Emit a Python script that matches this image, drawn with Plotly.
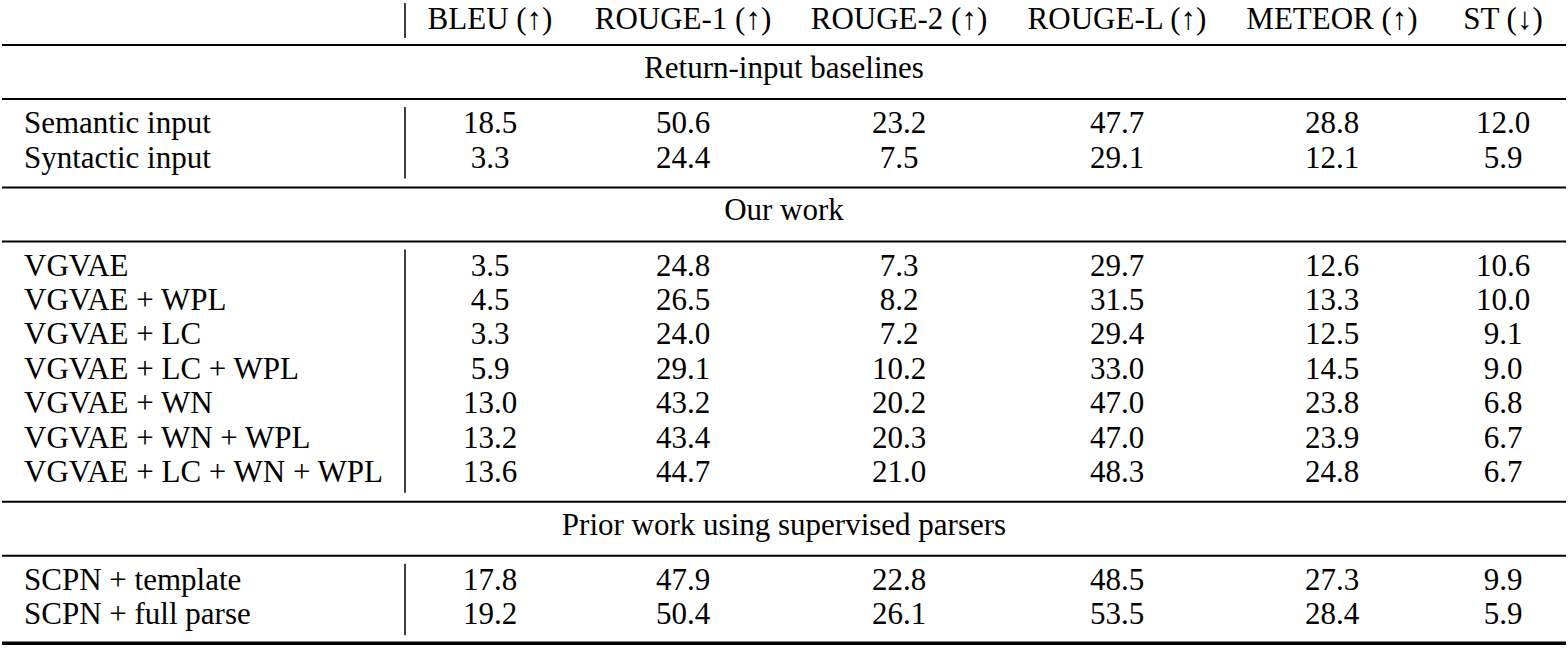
import plotly.graph_objects as go

# table content
columns = ["BLEU (↑)", "ROUGE-1 (↑)", "ROUGE-2 (↑)", "ROUGE-L (↑)", "METEOR (↑)", "ST (↓)"]

sections = ["Return-input baselines", "Our work", "Prior work using supervised parsers"]

baseline_methods = ["Semantic input", "Syntactic input"]
baseline_scores = [
    ["18.5", "50.6", "23.2", "47.7", "28.8", "12.0"],
    ["3.3", "24.4", "7.5", "29.1", "12.1", "5.9"],
]

our_methods = [
    "VGVAE",
    "VGVAE + WPL",
    "VGVAE + LC",
    "VGVAE + LC + WPL",
    "VGVAE + WN",
    "VGVAE + WN + WPL",
    "VGVAE + LC + WN + WPL",
]
our_scores = [
    ["3.5", "24.8", "7.3", "29.7", "12.6", "10.6"],
    ["4.5", "26.5", "8.2", "31.5", "13.3", "10.0"],
    ["3.3", "24.0", "7.2", "29.4", "12.5", "9.1"],
    ["5.9", "29.1", "10.2", "33.0", "14.5", "9.0"],
    ["13.0", "43.2", "20.2", "47.0", "23.8", "6.8"],
    ["13.2", "43.4", "20.3", "47.0", "23.9", "6.7"],
    ["13.6", "44.7", "21.0", "48.3", "24.8", "6.7"],
]

prior_methods = ["SCPN + template", "SCPN + full parse"]
prior_scores = [
    ["17.8", "47.9", "22.8", "48.5", "27.3", "9.9"],
    ["19.2", "50.4", "26.1", "53.5", "28.4", "5.9"],
]

blocks = [
    (sections[0], baseline_methods, baseline_scores),
    (sections[1], our_methods, our_scores),
    (sections[2], prior_methods, prior_scores),
]

# geometry in pixels (axes set up 1:1 with the page)
W, H = 1568, 648
col_x = [490, 683, 899, 1117, 1332, 1503]
label_x = 24
sep_x = 405
pitch = 34.4
FONT = dict(family="Liberation Serif, Times New Roman, serif", size=31, color="black")

texts_x, texts_y, texts = [], [], []
label_xs, label_ys, labels = [], [], []
title_xs, title_ys, titles = [], [], []
shapes = []


def hrule(y, w=2):
    shapes.append(dict(type="line", xref="x", yref="y", x0=2, x1=W - 2, y0=y, y1=y,
                       line=dict(color="black", width=w)))


def vrule(y0, y1):
    shapes.append(dict(type="line", xref="x", yref="y", x0=sep_x, x1=sep_x, y0=y0, y1=y1,
                       line=dict(color="black", width=1.5)))


# header
header_y = 21
for cx, name in zip(col_x, columns):
    texts_x.append(cx)
    texts_y.append(header_y)
    texts.append(name)
vrule(3, 38)
y = 45
hrule(y)

for title, methods, scores in blocks:
    title_xs.append(W / 2)
    title_ys.append(y + 25)
    titles.append(title)
    y += 54
    hrule(y)
    top = y
    row_y = y + 26.5
    for m, vals in zip(methods, scores):
        label_xs.append(label_x)
        label_ys.append(row_y)
        labels.append(m)
        for cx, v in zip(col_x, vals):
            texts_x.append(cx)
            texts_y.append(row_y)
            texts.append(v)
        row_y += pitch
    y = row_y - pitch + 27.5
    vrule(top + 8, y - 9)
    if title == sections[-1]:
        hrule(y - 1, w=3.5)
    else:
        hrule(y)

fig = go.Figure()
fig.add_trace(go.Scatter(x=texts_x, y=texts_y, text=texts, mode="text", cliponaxis=False,
                         textposition="middle center", textfont=FONT, hoverinfo="skip"))
fig.add_trace(go.Scatter(x=title_xs, y=title_ys, text=titles, mode="text", cliponaxis=False,
                         textposition="middle center", textfont=FONT, hoverinfo="skip"))
fig.add_trace(go.Scatter(x=label_xs, y=label_ys, text=labels, mode="text", cliponaxis=False,
                         textposition="middle right", textfont=FONT, hoverinfo="skip"))

fig.update_layout(
    width=W, height=H,
    margin=dict(l=0, r=0, t=0, b=0),
    paper_bgcolor="white", plot_bgcolor="white",
    showlegend=False,
    hovermode=False,
    shapes=shapes,
    xaxis=dict(range=[0, W], visible=False, fixedrange=True),
    yaxis=dict(range=[H, 0], visible=False, fixedrange=True),
)

# drop the default body margin so the figure sits at the page corner
fig.write_html("out.html", config={"displayModeBar": False},
               post_script="document.body.style.margin='0';")
